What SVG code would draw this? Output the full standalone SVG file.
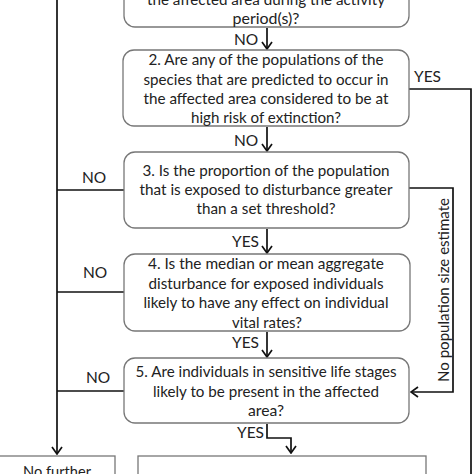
<svg xmlns="http://www.w3.org/2000/svg" width="474" height="474" viewBox="0 0 474 474">
<defs>
<marker id="ah" viewBox="0 0 12 12" refX="11" refY="6" markerWidth="12" markerHeight="12" markerUnits="userSpaceOnUse" orient="auto">
<path d="M4,1 L11,6 L4,11" fill="none" stroke="#111" stroke-width="1.7"/>
</marker>
<style>
.box{fill:#fff;stroke:#777;stroke-width:1.3}
.sq{fill:#fff;stroke:#777;stroke-width:1.3}
.t{font-family:Lato,"Open Sans",sans-serif;font-size:16px;fill:#222;text-anchor:middle}
.l{font-family:Lato,"Open Sans",sans-serif;font-size:15.5px;fill:#222}
.c{fill:none;stroke:#111;stroke-width:1.7}
</style>
</defs>
<rect width="474" height="474" fill="#fff"/>
<g id="connectors">
<polyline class="c" points="57,-5 57,454" marker-end="url(#ah)"/>
<line class="c" x1="124" y1="190" x2="57" y2="190"/>
<line class="c" x1="124" y1="292" x2="57" y2="292"/>
<line class="c" x1="124" y1="391" x2="57" y2="391"/>
<line class="c" x1="267" y1="28" x2="267" y2="49" marker-end="url(#ah)"/>
<line class="c" x1="267" y1="127" x2="267" y2="151" marker-end="url(#ah)"/>
<line class="c" x1="267" y1="229" x2="267" y2="253" marker-end="url(#ah)"/>
<line class="c" x1="267" y1="332" x2="267" y2="357" marker-end="url(#ah)"/>
<polyline class="c" points="267,424 267,438 291,438 291,453" marker-end="url(#ah)"/>
<polyline class="c" points="409,89 471,89 471,480"/>
<polyline class="c" points="409,188 453,188 453,392 411,392" marker-end="url(#ah)"/>
<text class="l" x="234" y="45">NO</text>
<text class="l" x="414" y="82">YES</text>
<text class="l" x="234" y="146">NO</text>
<text class="l" x="82" y="183">NO</text>
<text class="l" x="232" y="247">YES</text>
<text class="l" x="83" y="278">NO</text>
<text class="l" x="232" y="348">YES</text>
<text class="l" x="86" y="383">NO</text>
<text class="l" x="237" y="438">YES</text>
<text class="t" transform="translate(449,290) rotate(-90)" textLength="184" lengthAdjust="spacingAndGlyphs">No population size estimate</text>
</g>
<g id="node1">
<rect class="box" x="124" y="-60" width="285" height="87" rx="11"/>
<text class="t" x="266" y="5" textLength="238" lengthAdjust="spacingAndGlyphs">the affected area during the activity</text>
<text class="t" x="266" y="24" textLength="67" lengthAdjust="spacingAndGlyphs">period(s)?</text>
</g>
<g id="node2">
<rect class="box" x="123" y="50" width="286" height="76" rx="11"/>
<text class="t" x="266" y="65" textLength="235" lengthAdjust="spacingAndGlyphs">2. Are any of the populations of the</text>
<text class="t" x="266" y="85" textLength="245" lengthAdjust="spacingAndGlyphs">species that are predicted to occur in</text>
<text class="t" x="266" y="104" textLength="245" lengthAdjust="spacingAndGlyphs">the affected area considered to be at</text>
<text class="t" x="266" y="123" textLength="150" lengthAdjust="spacingAndGlyphs">high risk of extinction?</text>
</g>
<g id="node3">
<rect class="box" x="124" y="152" width="285" height="76" rx="11"/>
<text class="t" x="266" y="176" textLength="247" lengthAdjust="spacingAndGlyphs">3. Is the proportion of the population</text>
<text class="t" x="266" y="195" textLength="253" lengthAdjust="spacingAndGlyphs">that is exposed to disturbance greater</text>
<text class="t" x="266" y="214" textLength="139" lengthAdjust="spacingAndGlyphs">than a set threshold?</text>
</g>
<g id="node4">
<rect class="box" x="124" y="254" width="286" height="77" rx="11"/>
<text class="t" x="266" y="269" textLength="236" lengthAdjust="spacingAndGlyphs">4. Is the median or mean aggregate</text>
<text class="t" x="266" y="289" textLength="235" lengthAdjust="spacingAndGlyphs">disturbance for exposed individuals</text>
<text class="t" x="266" y="308" textLength="245" lengthAdjust="spacingAndGlyphs">likely to have any effect on individual</text>
<text class="t" x="267" y="328" textLength="70" lengthAdjust="spacingAndGlyphs">vital rates?</text>
</g>
<g id="node5">
<rect class="box" x="124" y="358" width="285" height="65" rx="11"/>
<text class="t" x="266" y="377" textLength="261" lengthAdjust="spacingAndGlyphs">5. Are individuals in sensitive life stages</text>
<text class="t" x="266" y="397" textLength="226" lengthAdjust="spacingAndGlyphs">likely to be present in the affected</text>
<text class="t" x="266" y="416" textLength="36" lengthAdjust="spacingAndGlyphs">area?</text>
</g>
<g id="node6">
<rect class="sq" x="-10" y="456" width="125" height="40"/>
<text class="t" x="57" y="477" textLength="68" lengthAdjust="spacingAndGlyphs">No further</text>
</g>
<g id="node7">
<rect class="sq" x="138" y="456" width="288" height="40"/>
</g>
</svg>
